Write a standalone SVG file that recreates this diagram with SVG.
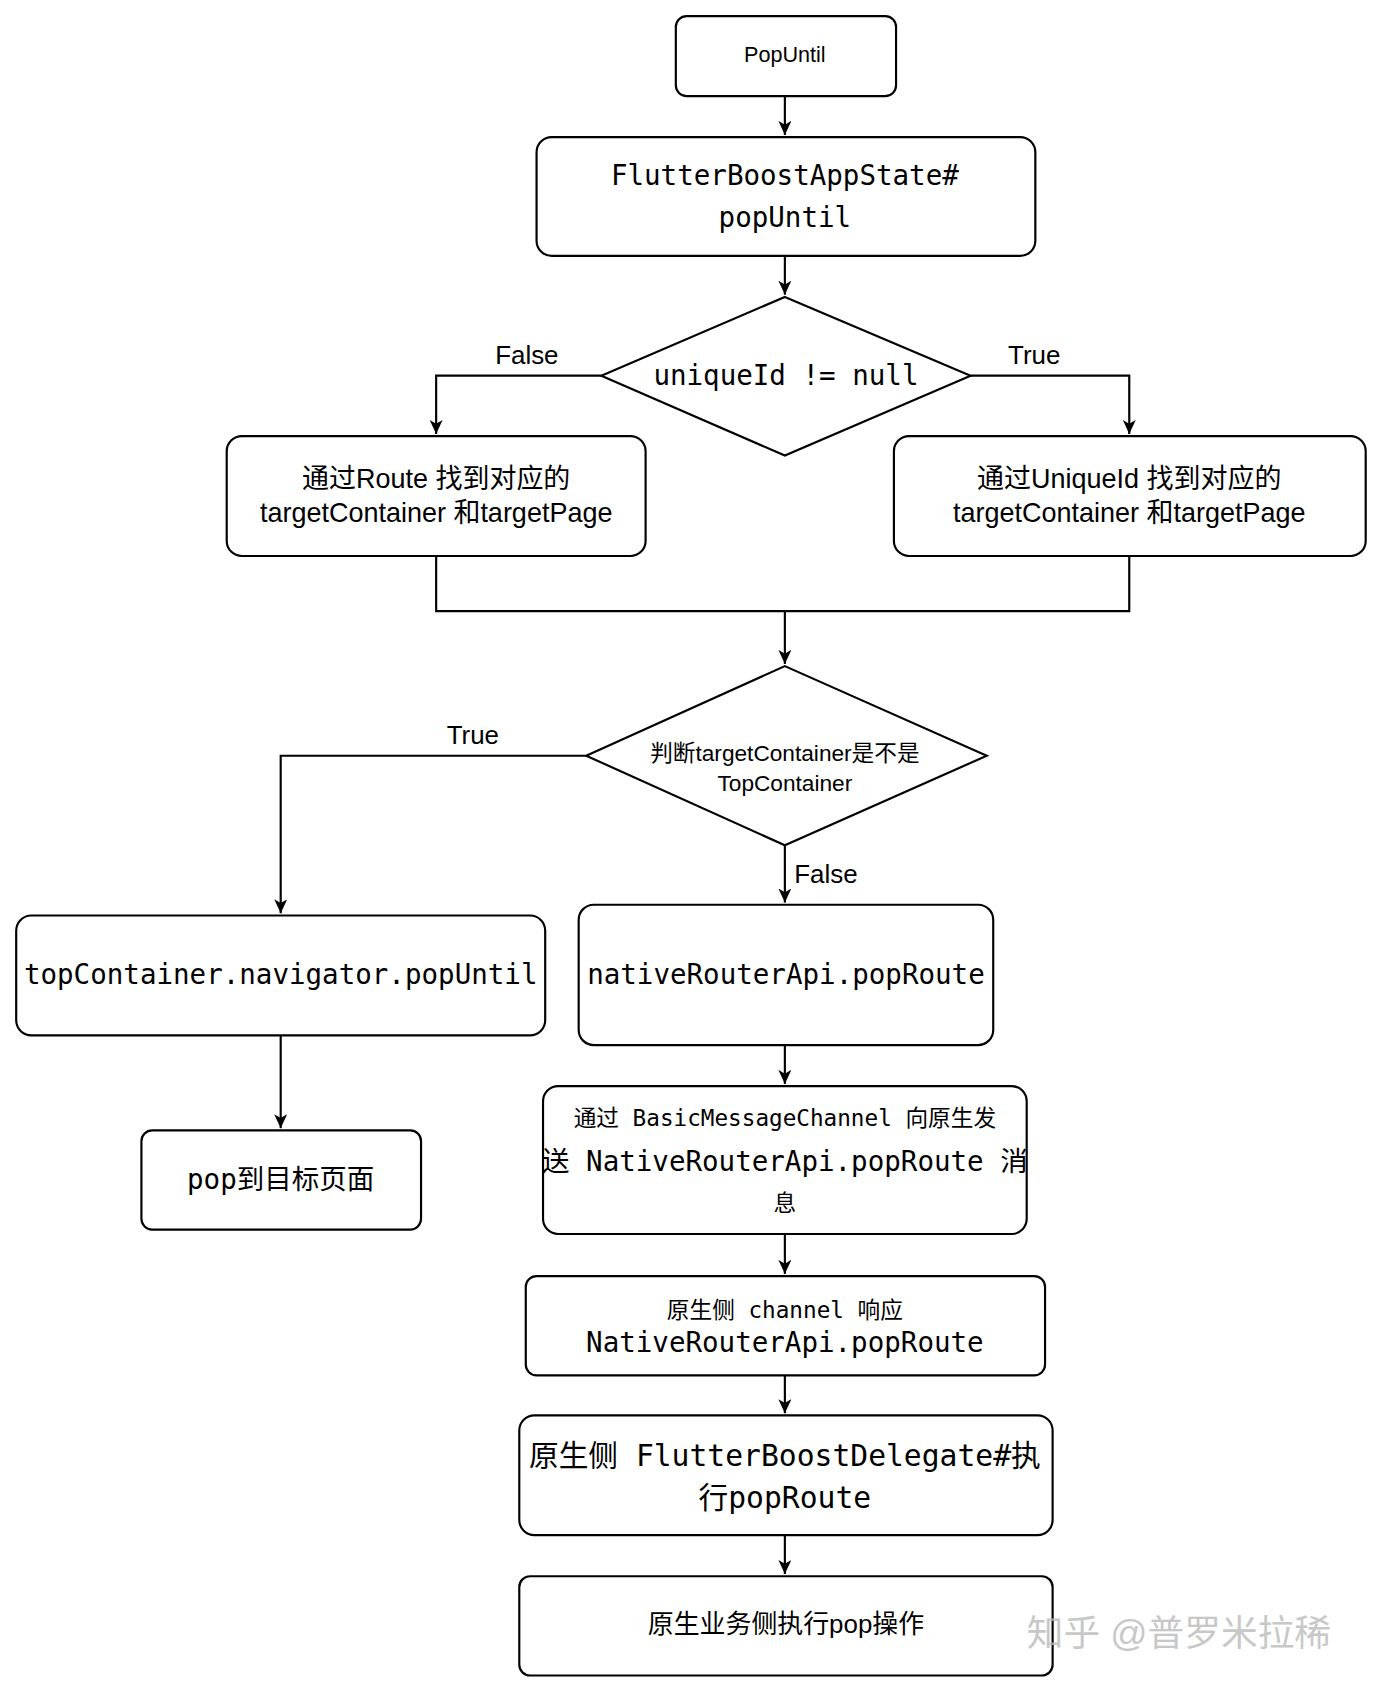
<svg xmlns="http://www.w3.org/2000/svg" width="1384" height="1694" viewBox="0 0 1384 1694">
<defs>
<marker id="ah" markerWidth="14" markerHeight="14" refX="13" refY="6" orient="auto" markerUnits="userSpaceOnUse"><path d="M0,0 L13,6 L0,12 L3.5,6 Z" fill="#000"/></marker>
<style>
.n{fill:#fff;stroke:#000;stroke-width:2}
.c{fill:none;stroke:#000;stroke-width:2}
.s{font-family:"Liberation Sans","Noto Sans CJK SC",sans-serif;text-anchor:middle;dominant-baseline:middle;fill:#000}
.m{font-family:"DejaVu Sans Mono","Noto Sans CJK SC",monospace;text-anchor:middle;dominant-baseline:middle;fill:#000}
</style>
</defs>
<rect width="1384" height="1694" fill="#fff"/>
<g transform="scale(1.0796)">
<g id="connectors">
<path class="c" d="M727,89 V125" marker-end="url(#ah)"/>
<path class="c" d="M727,237 V273" marker-end="url(#ah)"/>
<path class="c" d="M557,348 H404 V402" marker-end="url(#ah)"/>
<path class="c" d="M899,348 H1046 V402" marker-end="url(#ah)"/>
<path class="c" d="M404,515 V566 H1046 V515"/>
<path class="c" d="M727,566 V615" marker-end="url(#ah)"/>
<path class="c" d="M543,700 H260 V846" marker-end="url(#ah)"/>
<path class="c" d="M727,783 V836" marker-end="url(#ah)"/>
<path class="c" d="M260,959 V1045" marker-end="url(#ah)"/>
<path class="c" d="M727,968 V1004" marker-end="url(#ah)"/>
<path class="c" d="M727,1143 V1180" marker-end="url(#ah)"/>
<path class="c" d="M727,1274 V1309" marker-end="url(#ah)"/>
<path class="c" d="M727,1422 V1458" marker-end="url(#ah)"/>
<text class="s" x="488" y="331" font-size="24">False</text>
<text class="s" x="958" y="331" font-size="24">True</text>
<text class="s" x="438" y="683" font-size="24">True</text>
<text class="s" x="765" y="812" font-size="24">False</text>
</g>
<g id="n1"><rect class="n" x="626" y="15" width="204" height="74" rx="10"/><text class="s" x="727" y="52" font-size="20">PopUntil</text></g>
<g id="n2"><rect class="n" x="497" y="127" width="462" height="110" rx="14"/><text class="m" x="727" y="164" font-size="25.5">FlutterBoostAppState#</text><text class="m" x="727" y="203" font-size="25.5">popUntil</text></g>
<g id="n3"><path class="n" d="M727,275 L899,348 L727,422 L557,348 Z"/><text class="m" x="728" y="349" font-size="25.5">uniqueId != null</text></g>
<g id="n4"><rect class="n" x="210" y="404" width="388" height="111" rx="14"/><text class="s" x="404" y="445" font-size="25">通过Route 找到对应的</text><text class="s" x="404" y="477" font-size="25">targetContainer 和targetPage</text></g>
<g id="n5"><rect class="n" x="828" y="404" width="437" height="111" rx="14"/><text class="s" x="1046" y="445" font-size="25">通过UniqueId 找到对应的</text><text class="s" x="1046" y="477" font-size="25">targetContainer 和targetPage</text></g>
<g id="n6"><path class="n" d="M727,617 L914,700 L727,783 L543,700 Z"/><text class="s" x="727" y="699" font-size="21">判断targetContainer是不是</text><text class="s" x="727" y="727" font-size="21">TopContainer</text></g>
<g id="n7"><rect class="n" x="15" y="848" width="490" height="111" rx="14"/><text class="m" x="260" y="904" font-size="25.5">topContainer.navigator.popUntil</text></g>
<g id="n8"><rect class="n" x="536" y="838" width="384" height="130" rx="14"/><text class="m" x="728" y="904" font-size="25.5">nativeRouterApi.popRoute</text></g>
<g id="n9"><rect class="n" x="131" y="1047" width="259" height="92" rx="10"/><text class="m" x="260" y="1094" font-size="25.5">pop到目标页面</text></g>
<g id="n10"><rect class="n" x="503" y="1006" width="448" height="137" rx="14"/><text class="m" x="727" y="1037" font-size="21">通过 BasicMessageChannel 向原生发</text><text class="m" x="727" y="1077" font-size="25.5">送 NativeRouterApi.popRoute 消</text><text class="m" x="727" y="1116" font-size="21">息</text></g>
<g id="n11"><rect class="n" x="487" y="1182" width="481" height="92" rx="10"/><text class="m" x="727" y="1215" font-size="21">原生侧 channel 响应</text><text class="m" x="727" y="1245" font-size="25.5">NativeRouterApi.popRoute</text></g>
<g id="n12"><rect class="n" x="481" y="1311" width="494" height="111" rx="14"/><text class="m" x="727" y="1350" font-size="27.5">原生侧 FlutterBoostDelegate#执</text><text class="m" x="727" y="1389" font-size="27.5">行popRoute</text></g>
<g id="n13"><rect class="n" x="481" y="1460" width="494" height="92" rx="10"/><text class="s" x="728" y="1506" font-size="24">原生业务侧执行pop操作</text></g>
<text class="s" x="1092" y="1516" font-size="34" style="fill:#bbb" opacity="0.8">知乎 @普罗米拉稀</text>
</g>
</svg>
